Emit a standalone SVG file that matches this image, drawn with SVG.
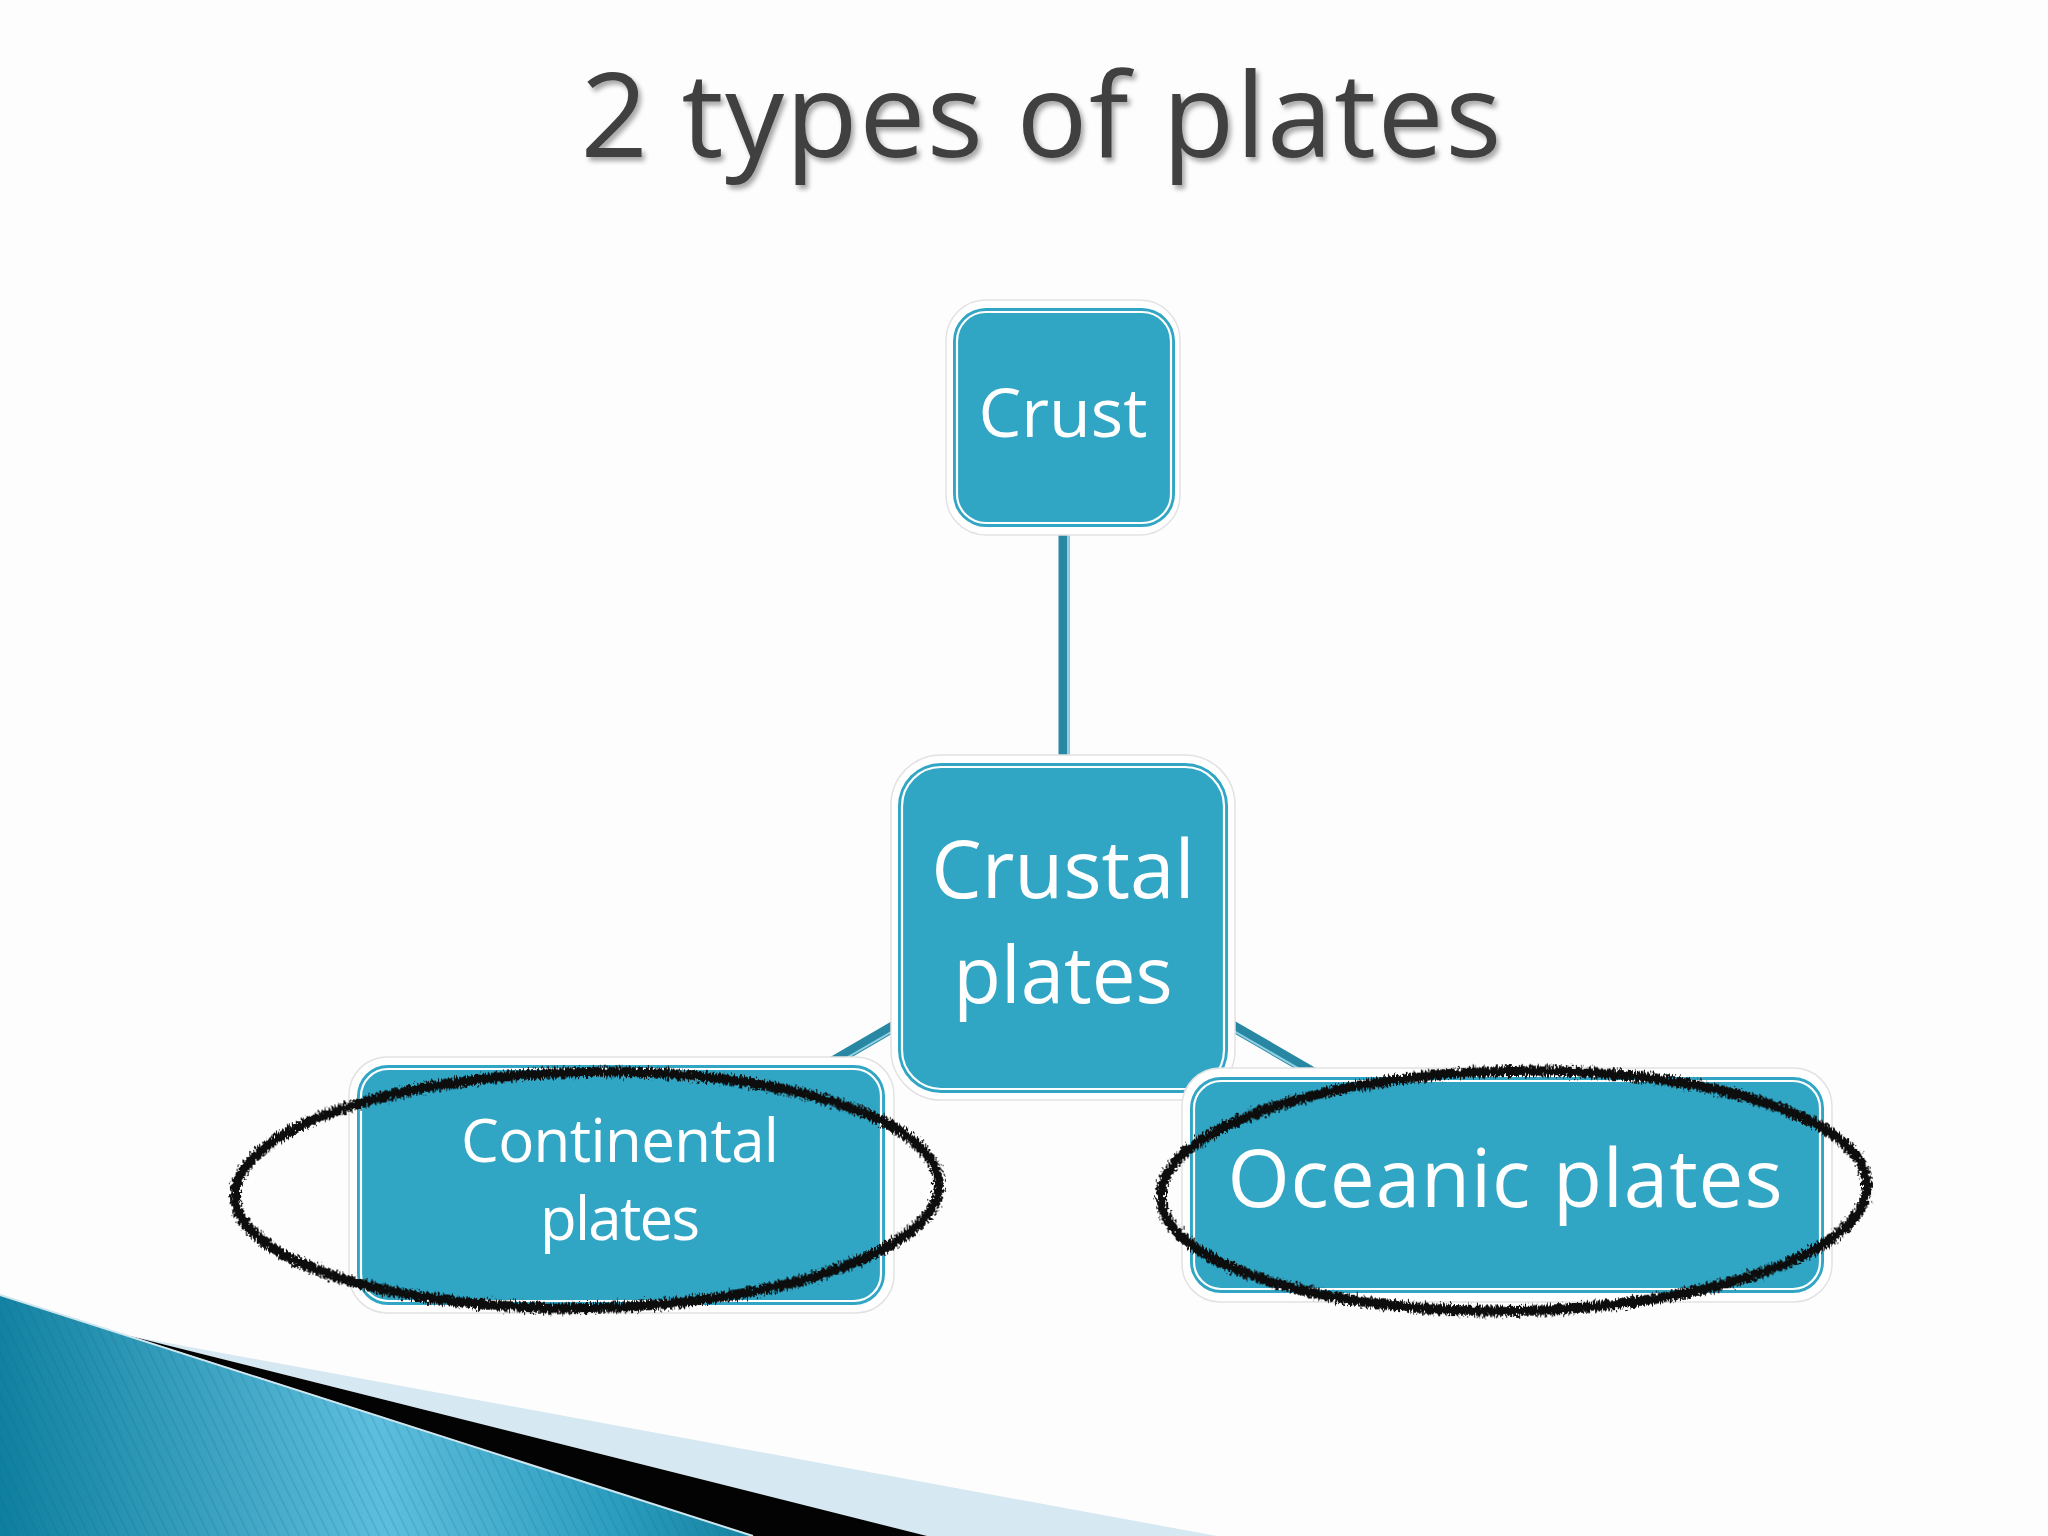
<svg xmlns="http://www.w3.org/2000/svg" width="2048" height="1536" viewBox="0 0 2048 1536">
<defs>
<style>
.halo{fill:#ffffff;stroke:#e2e2e2;stroke-width:1.5}
.box{fill:#31a6c4}
.inner{fill:none;stroke:#ffffff;stroke-width:2.2}
.lbl{font-family:"Open Sans","Noto Sans","DejaVu Sans",sans-serif;fill:#ffffff;text-anchor:middle}
.conn{stroke:#2887a3;stroke-width:11;fill:none}
.connhi{stroke:#8fd0e2;stroke-width:2;fill:none}
.scribble{fill:none;stroke:#0a0a0a;stroke-width:10;filter:url(#rough)}
</style>
<filter id="rough" x="-10%" y="-20%" width="120%" height="140%">
<feTurbulence type="fractalNoise" baseFrequency="0.6 0.25" numOctaves="2" seed="5" result="n"/>
<feDisplacementMap in="SourceGraphic" in2="n" scale="11" xChannelSelector="R" yChannelSelector="G"/>
</filter>
<filter id="tshadow" x="-5%" y="-20%" width="110%" height="140%">
<feGaussianBlur in="SourceAlpha" stdDeviation="2.5"/>
<feOffset dx="3" dy="4" result="b"/>
<feComponentTransfer><feFuncA type="linear" slope="0.35"/></feComponentTransfer>
<feMerge><feMergeNode/><feMergeNode in="SourceGraphic"/></feMerge>
</filter>
<linearGradient id="blueg" x1="0" y1="1500" x2="760" y2="1420" gradientUnits="userSpaceOnUse">
<stop offset="0" stop-color="#0f7f9f"/>
<stop offset="0.5" stop-color="#5ebedd"/>
<stop offset="0.8" stop-color="#2c9dbf"/>
<stop offset="1" stop-color="#127f9d"/>
</linearGradient>
<pattern id="stripes" width="9" height="9" patternUnits="userSpaceOnUse" patternTransform="rotate(-26)">
<rect width="1.3" height="9" fill="#0a5f78" opacity="0.2"/>
</pattern>
</defs>
<rect width="2048" height="1536" fill="#fdfdfd"/>

<g id="title">
<text x="1041" y="157" font-family="'Open Sans','Noto Sans','DejaVu Sans',sans-serif" font-size="118" fill="#404040" text-anchor="middle" textLength="921" filter="url(#tshadow)">2 types of plates</text>
</g>

<g id="decoration">
<path d="M130,1336 L1217,1536 L927,1536 Z" fill="#d6e8f1"/>
<path d="M130,1336 L927,1536 L753,1536 Z" fill="#030303"/>
<path d="M0,1295 L753,1536 L0,1536 Z" fill="url(#blueg)"/>
<path d="M0,1295 L753,1536 L0,1536 Z" fill="url(#stripes)"/>
<path d="M0,1295 L753,1536" fill="none" stroke="#cfe6ee" stroke-width="2"/>
</g>

<g id="connectors">
<line class="conn" x1="1064" y1="530" x2="1064" y2="765"/>
<line class="connhi" x1="1068" y1="530" x2="1068" y2="765"/>
<line class="conn" x1="1063" y1="928" x2="621" y2="1185"/>
<line class="connhi" x1="1065" y1="931" x2="623" y2="1188"/>
<line class="conn" x1="1063" y1="928" x2="1507" y2="1185"/>
<line class="connhi" x1="1061" y1="931" x2="1505" y2="1188"/>
</g>

<g id="node-crust">
<rect class="halo" x="946" y="300" width="234" height="235" rx="40"/>
<rect class="box" x="953" y="308" width="222" height="219" rx="33"/>
<rect class="inner" x="957" y="312" width="214" height="211" rx="29"/>
<text class="lbl" x="1063" y="437" font-size="68">Crust</text>
</g>

<g id="node-crustal-plates">
<rect class="halo" x="891" y="755" width="344" height="345" rx="50"/>
<rect class="box" x="898" y="763" width="330" height="330" rx="43"/>
<rect class="inner" x="902" y="767" width="322" height="322" rx="39"/>
<text class="lbl" x="1063" y="898" font-size="80">Crustal</text>
<text class="lbl" x="1063" y="1003" font-size="78">plates</text>
</g>

<g id="node-continental-plates">
<rect class="halo" x="349" y="1057" width="545" height="256" rx="38"/>
<rect class="box" x="357" y="1065" width="528" height="240" rx="31"/>
<rect class="inner" x="361" y="1069" width="520" height="232" rx="27"/>
<text class="lbl" x="620" y="1162" font-size="60" textLength="318">Continental</text>
<text class="lbl" x="620" y="1240" font-size="60" textLength="160">plates</text>
</g>

<g id="node-oceanic-plates">
<rect class="halo" x="1182" y="1068" width="650" height="234" rx="38"/>
<rect class="box" x="1190" y="1077" width="634" height="216" rx="31"/>
<rect class="inner" x="1194" y="1081" width="626" height="208" rx="27"/>
<text class="lbl" x="1505" y="1207" font-size="80" textLength="555">Oceanic plates</text>
</g>

<g id="annotations">
<ellipse class="scribble" cx="587" cy="1190" rx="352" ry="118" transform="rotate(-1 587 1190)"/>
<ellipse class="scribble" cx="1514" cy="1191" rx="353" ry="120" transform="rotate(-1 1514 1191)"/>
</g>
</svg>
